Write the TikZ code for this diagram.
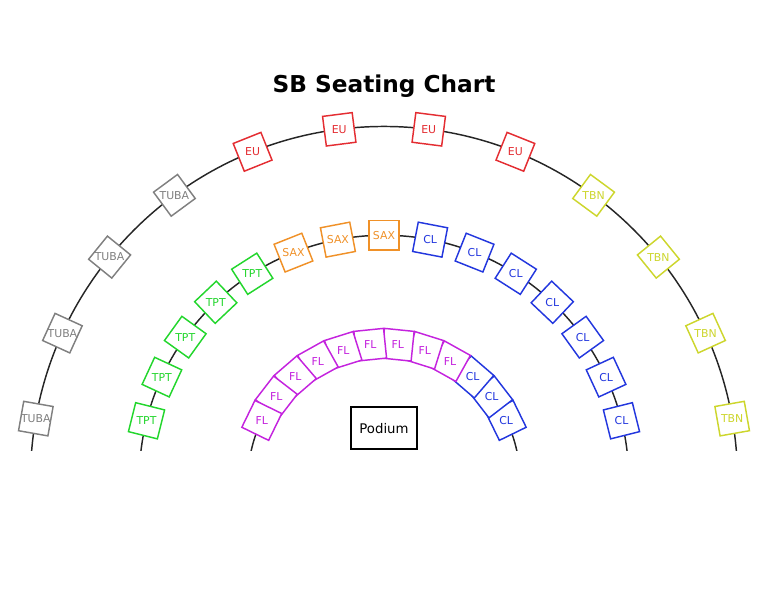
\documentclass[tikz,border=0pt]{standalone}
\usepackage{fontspec}
\setmainfont{DejaVu Sans}
\definecolor{seatRed}{RGB}{228, 45, 50}
\definecolor{seatGray}{RGB}{128, 128, 128}
\definecolor{seatYellow}{RGB}{205, 214, 45}
\definecolor{seatGreen}{RGB}{35, 214, 45}
\definecolor{seatOrange}{RGB}{240, 145, 40}
\definecolor{seatBlue}{RGB}{35, 55, 222}
\definecolor{seatPurple}{RGB}{196, 35, 222}

\begin{document}
\begin{tikzpicture}[x=0.72cm, y=0.72cm]
    \tikzstyle{seatbox} = [rectangle, fill=white, line width=1.1pt, minimum size=0.79cm, inner sep=0pt]
    \tikzstyle{seattext} = [font=\fontsize{8.2}{10}\selectfont, inner sep=0pt]
    \tikzstyle{row} = [line width=1.1pt, black!85]
    \useasboundingbox (-14.12,-4.15) rectangle (14.12,17.65);

    \node[font=\fontsize{17.5}{21}\selectfont\bfseries] (title) at (0, 14.49) {SB Seating Chart};

    % the three rows
    \begin{scope}
        \clip (-14,1.1) rectangle (14,14);
        \draw[row] (0,0) circle (5);
        \draw[row] (0,0) circle (9);
        \draw[row] (0,0) circle (13);
    \end{scope}

    % back row
    \foreach \a [count=\i] in {10, 24.545, 39.091, 53.636}{
        \node[seatbox, draw=seatYellow, rotate=\a-90] (tbn\i) at (\a:13) {};
        \node[seattext, text=seatYellow] at (tbn\i) {TBN};
    }
    \foreach \a [count=\i] in {68.182, 82.727, 97.273, 111.818}{
        \node[seatbox, draw=seatRed, rotate=\a-90] (eu\i) at (\a:13) {};
        \node[seattext, text=seatRed] at (eu\i) {EU};
    }
    \foreach \a [count=\i] in {126.364, 140.909, 155.455, 170}{
        \node[seatbox, draw=seatGray, rotate=\a-90] (tuba\i) at (\a:13) {};
        \node[seattext, text=seatGray] at (tuba\i) {TUBA};
    }

    % middle row
    \foreach \a [count=\i] in {14, 24.857, 35.714, 46.571, 57.429, 68.286, 79.143}{
        \node[seatbox, draw=seatBlue, rotate=\a-90] (cl\i) at (\a:9) {};
        \node[seattext, text=seatBlue] at (cl\i) {CL};
    }
    \foreach \a [count=\i] in {90, 100.857, 111.714}{
        \node[seatbox, draw=seatOrange, rotate=\a-90] (sax\i) at (\a:9) {};
        \node[seattext, text=seatOrange] at (sax\i) {SAX};
    }
    \foreach \a [count=\i] in {122.571, 133.429, 144.286, 155.143, 166}{
        \node[seatbox, draw=seatGreen, rotate=\a-90] (tpt\i) at (\a:9) {};
        \node[seattext, text=seatGreen] at (tpt\i) {TPT};
    }

    % front row
    \foreach \a [count=\i] in {26, 37.636, 49.273}{
        \node[seatbox, draw=seatBlue, rotate=\a-90] (clf\i) at (\a:5) {};
        \node[seattext, text=seatBlue] at (clf\i) {CL};
    }
    \foreach \a [count=\i] in {60.909, 72.545, 84.182, 95.818, 107.455, 119.091, 130.727, 142.364, 154}{
        \node[seatbox, draw=seatPurple, rotate=\a-90] (fl\i) at (\a:5) {};
        \node[seattext, text=seatPurple] at (fl\i) {FL};
    }

    \node[draw, line width=1.1pt, minimum width=1.75cm, minimum height=1.11cm, font=\fontsize{10}{12}\selectfont] (podium) at (0, 1.91) {Podium};
\end{tikzpicture}
\end{document}
